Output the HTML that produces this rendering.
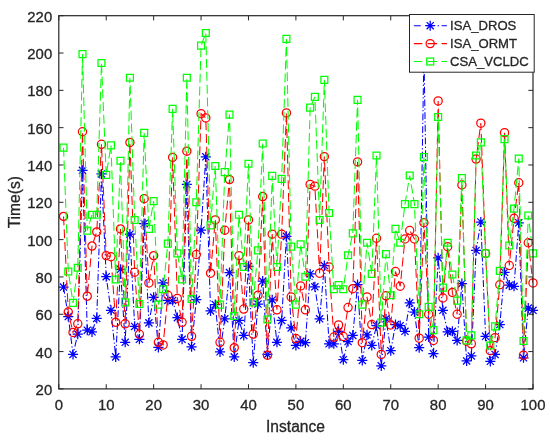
<!DOCTYPE html>
<html><head><meta charset="utf-8"><title>Time per Instance</title>
<style>
html,body{margin:0;padding:0;background:#fff;}
svg{display:block;}
text{font-family:"Liberation Sans",Arial,Helvetica,sans-serif;fill:#262626;stroke:#262626;stroke-width:0.3px;}
.tk{font-size:14.9px;}
.lb{font-size:15.6px;}
.lg{font-size:13.1px;fill:#000;stroke:#000;}
</style></head><body>
<svg width="550" height="442" viewBox="0 0 550 442">
<rect x="0" y="0" width="550" height="442" fill="#fff"/>
<defs><clipPath id="cp"><rect x="58.8" y="15.7" width="474.2" height="373.2"/></clipPath></defs>
<g fill="none" stroke-width="1.05">
<polyline clip-path="url(#cp)" points="63.54,287.01 68.28,316.52 73.03,354.44 77.77,334.08 82.51,170.26 87.25,330.16 91.99,331.84 96.74,318.39 101.48,173.99 106.22,276.73 110.96,310.36 115.70,356.87 120.45,269.26 125.19,342.30 129.93,234.14 134.67,326.42 139.41,339.31 144.16,223.50 148.90,322.87 153.64,297.28 158.38,347.34 163.12,282.90 167.87,300.46 172.61,300.46 177.35,317.64 182.09,339.31 186.83,184.45 191.58,346.78 196.32,299.52 201.06,230.22 205.80,156.81 210.54,310.92 215.29,304.57 220.03,351.83 224.77,318.76 229.51,272.62 234.25,356.87 239.00,320.44 243.74,335.39 248.48,266.27 253.22,362.66 257.96,304.01 262.71,281.03 267.45,354.44 272.19,299.90 276.93,342.30 281.67,320.44 286.42,236.38 291.16,327.92 295.90,345.48 300.64,341.37 305.38,342.67 310.13,273.93 314.87,286.82 319.61,318.76 324.35,265.53 329.09,343.79 333.84,343.79 338.58,331.28 343.32,359.67 348.06,341.55 352.80,335.39 357.55,284.58 362.29,360.42 367.03,334.83 371.77,345.48 376.51,325.67 381.26,365.84 386.00,318.76 390.74,350.71 395.48,324.55 400.22,325.67 404.97,331.28 409.71,302.89 414.45,312.04 419.19,347.72 423.93,52.76 428.68,337.07 433.42,353.69 438.16,257.87 442.90,310.36 447.64,331.84 452.39,331.28 457.13,340.43 461.87,283.64 466.61,360.98 471.35,355.94 476.10,250.39 480.84,222.00 485.58,336.32 490.32,361.35 495.06,354.44 499.81,324.55 504.55,272.25 509.29,285.14 514.03,286.26 518.77,222.75 523.52,357.80 528.26,308.12 533.00,310.36" stroke="#0000ff" stroke-dasharray="6.8 2.3 1.3 2.3"/>
<path d="M58.49 287.01H68.59M63.54 281.96V292.06M59.97 283.44L67.11 290.58M59.97 290.58L67.11 283.44M63.23 316.52H73.33M68.28 311.47V321.57M64.71 312.95L71.85 320.09M64.71 320.09L71.85 312.95M67.98 354.44H78.08M73.03 349.39V359.49M69.46 350.87L76.60 358.01M69.46 358.01L76.60 350.87M72.72 334.08H82.82M77.77 329.03V339.13M74.20 330.51L81.34 337.65M74.20 337.65L81.34 330.51M77.46 170.26H87.56M82.51 165.21V175.31M78.94 166.69L86.08 173.83M78.94 173.83L86.08 166.69M82.20 330.16H92.30M87.25 325.11V335.21M83.68 326.59L90.82 333.73M83.68 333.73L90.82 326.59M86.94 331.84H97.04M91.99 326.79V336.89M88.42 328.27L95.56 335.41M88.42 335.41L95.56 328.27M91.69 318.39H101.79M96.74 313.34V323.44M93.17 314.82L100.31 321.96M93.17 321.96L100.31 314.82M96.43 173.99H106.53M101.48 168.94V179.04M97.91 170.42L105.05 177.56M97.91 177.56L105.05 170.42M101.17 276.73H111.27M106.22 271.68V281.78M102.65 273.16L109.79 280.30M102.65 280.30L109.79 273.16M105.91 310.36H116.01M110.96 305.31V315.41M107.39 306.79L114.53 313.93M107.39 313.93L114.53 306.79M110.65 356.87H120.75M115.70 351.82V361.92M112.13 353.30L119.27 360.44M112.13 360.44L119.27 353.30M115.40 269.26H125.50M120.45 264.21V274.31M116.88 265.69L124.02 272.83M116.88 272.83L124.02 265.69M120.14 342.30H130.24M125.19 337.25V347.35M121.62 338.73L128.76 345.87M121.62 345.87L128.76 338.73M124.88 234.14H134.98M129.93 229.09V239.19M126.36 230.57L133.50 237.71M126.36 237.71L133.50 230.57M129.62 326.42H139.72M134.67 321.37V331.47M131.10 322.85L138.24 329.99M131.10 329.99L138.24 322.85M134.36 339.31H144.46M139.41 334.26V344.36M135.84 335.74L142.98 342.88M135.84 342.88L142.98 335.74M139.11 223.50H149.21M144.16 218.45V228.55M140.59 219.92L147.73 227.07M140.59 227.07L147.73 219.92M143.85 322.87H153.95M148.90 317.82V327.92M145.33 319.30L152.47 326.44M145.33 326.44L152.47 319.30M148.59 297.28H158.69M153.64 292.23V302.33M150.07 293.71L157.21 300.85M150.07 300.85L157.21 293.71M153.33 347.34H163.43M158.38 342.29V352.39M154.81 343.77L161.95 350.91M154.81 350.91L161.95 343.77M158.07 282.90H168.17M163.12 277.85V287.95M159.55 279.33L166.69 286.47M159.55 286.47L166.69 279.33M162.82 300.46H172.92M167.87 295.41V305.51M164.30 296.89L171.44 304.03M164.30 304.03L171.44 296.89M167.56 300.46H177.66M172.61 295.41V305.51M169.04 296.89L176.18 304.03M169.04 304.03L176.18 296.89M172.30 317.64H182.40M177.35 312.59V322.69M173.78 314.07L180.92 321.21M173.78 321.21L180.92 314.07M177.04 339.31H187.14M182.09 334.26V344.36M178.52 335.74L185.66 342.88M178.52 342.88L185.66 335.74M181.78 184.45H191.88M186.83 179.40V189.50M183.26 180.88L190.40 188.02M183.26 188.02L190.40 180.88M186.53 346.78H196.63M191.58 341.73V351.83M188.01 343.21L195.15 350.35M188.01 350.35L195.15 343.21M191.27 299.52H201.37M196.32 294.47V304.57M192.75 295.95L199.89 303.09M192.75 303.09L199.89 295.95M196.01 230.22H206.11M201.06 225.17V235.27M197.49 226.65L204.63 233.79M197.49 233.79L204.63 226.65M200.75 156.81H210.85M205.80 151.76V161.86M202.23 153.24L209.37 160.38M202.23 160.38L209.37 153.24M205.49 310.92H215.59M210.54 305.87V315.97M206.97 307.35L214.11 314.49M206.97 314.49L214.11 307.35M210.24 304.57H220.34M215.29 299.52V309.62M211.72 301.00L218.86 308.14M211.72 308.14L218.86 301.00M214.98 351.83H225.08M220.03 346.78V356.88M216.46 348.26L223.60 355.40M216.46 355.40L223.60 348.26M219.72 318.76H229.82M224.77 313.71V323.81M221.20 315.19L228.34 322.33M221.20 322.33L228.34 315.19M224.46 272.62H234.56M229.51 267.57V277.67M225.94 269.05L233.08 276.19M225.94 276.19L233.08 269.05M229.20 356.87H239.30M234.25 351.82V361.92M230.68 353.30L237.82 360.44M230.68 360.44L237.82 353.30M233.95 320.44H244.05M239.00 315.39V325.49M235.43 316.87L242.57 324.02M235.43 324.02L242.57 316.87M238.69 335.39H248.79M243.74 330.34V340.44M240.17 331.82L247.31 338.96M240.17 338.96L247.31 331.82M243.43 266.27H253.53M248.48 261.22V271.32M244.91 262.70L252.05 269.84M244.91 269.84L252.05 262.70M248.17 362.66H258.27M253.22 357.61V367.71M249.65 359.09L256.79 366.23M249.65 366.23L256.79 359.09M252.91 304.01H263.01M257.96 298.96V309.06M254.39 300.44L261.53 307.58M254.39 307.58L261.53 300.44M257.66 281.03H267.76M262.71 275.98V286.08M259.14 277.46L266.28 284.60M259.14 284.60L266.28 277.46M262.40 354.44H272.50M267.45 349.39V359.49M263.88 350.87L271.02 358.01M263.88 358.01L271.02 350.87M267.14 299.90H277.24M272.19 294.85V304.95M268.62 296.33L275.76 303.47M268.62 303.47L275.76 296.33M271.88 342.30H281.98M276.93 337.25V347.35M273.36 338.73L280.50 345.87M273.36 345.87L280.50 338.73M276.62 320.44H286.72M281.67 315.39V325.49M278.10 316.87L285.24 324.02M278.10 324.02L285.24 316.87M281.37 236.38H291.47M286.42 231.33V241.43M282.85 232.81L289.99 239.96M282.85 239.96L289.99 232.81M286.11 327.92H296.21M291.16 322.87V332.97M287.59 324.35L294.73 331.49M287.59 331.49L294.73 324.35M290.85 345.48H300.95M295.90 340.43V350.53M292.33 341.90L299.47 349.05M292.33 349.05L299.47 341.90M295.59 341.37H305.69M300.64 336.32V346.42M297.07 337.80L304.21 344.94M297.07 344.94L304.21 337.80M300.33 342.67H310.43M305.38 337.62V347.72M301.81 339.10L308.95 346.24M301.81 346.24L308.95 339.10M305.08 273.93H315.18M310.13 268.88V278.98M306.56 270.36L313.70 277.50M306.56 277.50L313.70 270.36M309.82 286.82H319.92M314.87 281.77V291.87M311.30 283.25L318.44 290.39M311.30 290.39L318.44 283.25M314.56 318.76H324.66M319.61 313.71V323.81M316.04 315.19L323.18 322.33M316.04 322.33L323.18 315.19M319.30 265.53H329.40M324.35 260.48V270.58M320.78 261.95L327.92 269.10M320.78 269.10L327.92 261.95M324.04 343.79H334.14M329.09 338.74V348.84M325.52 340.22L332.66 347.37M325.52 347.37L332.66 340.22M328.79 343.79H338.89M333.84 338.74V348.84M330.27 340.22L337.41 347.37M330.27 347.37L337.41 340.22M333.53 331.28H343.63M338.58 326.23V336.33M335.01 327.71L342.15 334.85M335.01 334.85L342.15 327.71M338.27 359.67H348.37M343.32 354.62V364.72M339.75 356.10L346.89 363.24M339.75 363.24L346.89 356.10M343.01 341.55H353.11M348.06 336.50V346.60M344.49 337.98L351.63 345.12M344.49 345.12L351.63 337.98M347.75 335.39H357.85M352.80 330.34V340.44M349.23 331.82L356.37 338.96M349.23 338.96L356.37 331.82M352.50 284.58H362.60M357.55 279.53V289.63M353.98 281.01L361.12 288.15M353.98 288.15L361.12 281.01M357.24 360.42H367.34M362.29 355.37V365.47M358.72 356.85L365.86 363.99M358.72 363.99L365.86 356.85M361.98 334.83H372.08M367.03 329.78V339.88M363.46 331.26L370.60 338.40M363.46 338.40L370.60 331.26M366.72 345.48H376.82M371.77 340.43V350.53M368.20 341.90L375.34 349.05M368.20 349.05L375.34 341.90M371.46 325.67H381.56M376.51 320.62V330.72M372.94 322.10L380.08 329.25M372.94 329.25L380.08 322.10M376.21 365.84H386.31M381.26 360.79V370.89M377.69 362.27L384.83 369.41M377.69 369.41L384.83 362.27M380.95 318.76H391.05M386.00 313.71V323.81M382.43 315.19L389.57 322.33M382.43 322.33L389.57 315.19M385.69 350.71H395.79M390.74 345.66V355.76M387.17 347.14L394.31 354.28M387.17 354.28L394.31 347.14M390.43 324.55H400.53M395.48 319.50V329.60M391.91 320.98L399.05 328.12M391.91 328.12L399.05 320.98M395.17 325.67H405.27M400.22 320.62V330.72M396.65 322.10L403.79 329.25M396.65 329.25L403.79 322.10M399.92 331.28H410.02M404.97 326.23V336.33M401.40 327.71L408.54 334.85M401.40 334.85L408.54 327.71M404.66 302.89H414.76M409.71 297.84V307.94M406.14 299.31L413.28 306.46M406.14 306.46L413.28 299.31M409.40 312.04H419.50M414.45 306.99V317.09M410.88 308.47L418.02 315.61M410.88 315.61L418.02 308.47M414.14 347.72H424.24M419.19 342.67V352.77M415.62 344.15L422.76 351.29M415.62 351.29L422.76 344.15M418.88 52.76H428.98M423.93 47.71V57.81M420.36 49.19L427.50 56.33M420.36 56.33L427.50 49.19M423.63 337.07H433.73M428.68 332.02V342.12M425.11 333.50L432.25 340.64M425.11 340.64L432.25 333.50M428.37 353.69H438.47M433.42 348.64V358.74M429.85 350.12L436.99 357.27M429.85 357.27L436.99 350.12M433.11 257.87H443.21M438.16 252.82V262.92M434.59 254.30L441.73 261.44M434.59 261.44L441.73 254.30M437.85 310.36H447.95M442.90 305.31V315.41M439.33 306.79L446.47 313.93M439.33 313.93L446.47 306.79M442.59 331.84H452.69M447.64 326.79V336.89M444.07 328.27L451.21 335.41M444.07 335.41L451.21 328.27M447.34 331.28H457.44M452.39 326.23V336.33M448.82 327.71L455.96 334.85M448.82 334.85L455.96 327.71M452.08 340.43H462.18M457.13 335.38V345.48M453.56 336.86L460.70 344.00M453.56 344.00L460.70 336.86M456.82 283.64H466.92M461.87 278.59V288.69M458.30 280.07L465.44 287.22M458.30 287.22L465.44 280.07M461.56 360.98H471.66M466.61 355.93V366.03M463.04 357.41L470.18 364.55M463.04 364.55L470.18 357.41M466.30 355.94H476.40M471.35 350.89V360.99M467.78 352.37L474.92 359.51M467.78 359.51L474.92 352.37M471.05 250.39H481.15M476.10 245.34V255.44M472.53 246.82L479.67 253.97M472.53 253.97L479.67 246.82M475.79 222.00H485.89M480.84 216.95V227.05M477.27 218.43L484.41 225.57M477.27 225.57L484.41 218.43M480.53 336.32H490.63M485.58 331.27V341.37M482.01 332.75L489.15 339.89M482.01 339.89L489.15 332.75M485.27 361.35H495.37M490.32 356.30V366.40M486.75 357.78L493.89 364.92M486.75 364.92L493.89 357.78M490.01 354.44H500.11M495.06 349.39V359.49M491.49 350.87L498.63 358.01M491.49 358.01L498.63 350.87M494.76 324.55H504.86M499.81 319.50V329.60M496.24 320.98L503.38 328.12M496.24 328.12L503.38 320.98M499.50 272.25H509.60M504.55 267.20V277.30M500.98 268.68L508.12 275.82M500.98 275.82L508.12 268.68M504.24 285.14H514.34M509.29 280.09V290.19M505.72 281.57L512.86 288.71M505.72 288.71L512.86 281.57M508.98 286.26H519.08M514.03 281.21V291.31M510.46 282.69L517.60 289.83M510.46 289.83L517.60 282.69M513.72 222.75H523.82M518.77 217.70V227.80M515.20 219.18L522.34 226.32M515.20 226.32L522.34 219.18M518.47 357.80H528.57M523.52 352.75V362.85M519.95 354.23L527.09 361.38M519.95 361.38L527.09 354.23M523.21 308.12H533.31M528.26 303.07V313.17M524.69 304.54L531.83 311.69M524.69 311.69L531.83 304.54M527.95 310.36H538.05M533.00 305.31V315.41M529.43 306.79L536.57 313.93M529.43 313.93L536.57 306.79" stroke="#0000ff" stroke-width="1.25"/>
<polyline clip-path="url(#cp)" points="63.54,216.40 68.28,312.04 73.03,332.40 77.77,323.81 82.51,131.78 87.25,296.16 91.99,246.10 96.74,231.90 101.48,144.29 106.22,255.62 110.96,256.75 115.70,322.31 120.45,228.91 125.19,323.81 129.93,142.42 134.67,272.25 139.41,334.27 144.16,198.65 148.90,282.90 153.64,255.62 158.38,342.30 163.12,344.92 167.87,295.23 172.61,157.37 177.35,298.40 182.09,322.31 186.83,151.20 191.58,336.32 196.32,254.50 201.06,113.66 205.80,117.95 210.54,273.18 215.29,219.95 220.03,342.30 224.77,230.22 229.51,179.60 234.25,347.72 239.00,255.62 243.74,309.05 248.48,219.95 253.22,334.08 257.96,295.23 262.71,196.60 267.45,355.19 272.19,234.14 276.93,309.80 281.67,234.14 286.42,112.91 291.16,296.91 295.90,338.56 300.64,285.89 305.38,309.80 310.13,184.45 314.87,186.14 319.61,273.18 324.35,156.62 329.09,267.02 333.84,337.07 338.58,324.93 343.32,336.51 348.06,307.56 352.80,288.69 357.55,161.85 362.29,342.67 367.03,296.91 371.77,324.55 376.51,238.25 381.26,354.44 386.00,295.79 390.74,324.93 395.48,271.50 400.22,286.26 404.97,239.00 409.71,230.59 414.45,239.00 419.19,338.19 423.93,222.75 428.68,314.28 433.42,340.43 438.16,100.95 442.90,298.03 447.64,246.66 452.39,292.42 457.13,314.28 461.87,185.01 466.61,341.18 471.35,343.79 476.10,159.05 480.84,123.18 485.58,253.38 490.32,350.71 495.06,337.63 499.81,284.77 504.55,132.71 509.29,265.53 514.03,218.26 518.77,182.77 523.52,355.19 528.26,242.74 533.00,282.90" stroke="#ff0000" stroke-dasharray="9 3.8"/>
<path d="M59.44 216.40a4.10 4.10 0 1 0 8.20 0a4.10 4.10 0 1 0 -8.20 0M64.18 312.04a4.10 4.10 0 1 0 8.20 0a4.10 4.10 0 1 0 -8.20 0M68.93 332.40a4.10 4.10 0 1 0 8.20 0a4.10 4.10 0 1 0 -8.20 0M73.67 323.81a4.10 4.10 0 1 0 8.20 0a4.10 4.10 0 1 0 -8.20 0M78.41 131.78a4.10 4.10 0 1 0 8.20 0a4.10 4.10 0 1 0 -8.20 0M83.15 296.16a4.10 4.10 0 1 0 8.20 0a4.10 4.10 0 1 0 -8.20 0M87.89 246.10a4.10 4.10 0 1 0 8.20 0a4.10 4.10 0 1 0 -8.20 0M92.64 231.90a4.10 4.10 0 1 0 8.20 0a4.10 4.10 0 1 0 -8.20 0M97.38 144.29a4.10 4.10 0 1 0 8.20 0a4.10 4.10 0 1 0 -8.20 0M102.12 255.62a4.10 4.10 0 1 0 8.20 0a4.10 4.10 0 1 0 -8.20 0M106.86 256.75a4.10 4.10 0 1 0 8.20 0a4.10 4.10 0 1 0 -8.20 0M111.60 322.31a4.10 4.10 0 1 0 8.20 0a4.10 4.10 0 1 0 -8.20 0M116.35 228.91a4.10 4.10 0 1 0 8.20 0a4.10 4.10 0 1 0 -8.20 0M121.09 323.81a4.10 4.10 0 1 0 8.20 0a4.10 4.10 0 1 0 -8.20 0M125.83 142.42a4.10 4.10 0 1 0 8.20 0a4.10 4.10 0 1 0 -8.20 0M130.57 272.25a4.10 4.10 0 1 0 8.20 0a4.10 4.10 0 1 0 -8.20 0M135.31 334.27a4.10 4.10 0 1 0 8.20 0a4.10 4.10 0 1 0 -8.20 0M140.06 198.65a4.10 4.10 0 1 0 8.20 0a4.10 4.10 0 1 0 -8.20 0M144.80 282.90a4.10 4.10 0 1 0 8.20 0a4.10 4.10 0 1 0 -8.20 0M149.54 255.62a4.10 4.10 0 1 0 8.20 0a4.10 4.10 0 1 0 -8.20 0M154.28 342.30a4.10 4.10 0 1 0 8.20 0a4.10 4.10 0 1 0 -8.20 0M159.02 344.92a4.10 4.10 0 1 0 8.20 0a4.10 4.10 0 1 0 -8.20 0M163.77 295.23a4.10 4.10 0 1 0 8.20 0a4.10 4.10 0 1 0 -8.20 0M168.51 157.37a4.10 4.10 0 1 0 8.20 0a4.10 4.10 0 1 0 -8.20 0M173.25 298.40a4.10 4.10 0 1 0 8.20 0a4.10 4.10 0 1 0 -8.20 0M177.99 322.31a4.10 4.10 0 1 0 8.20 0a4.10 4.10 0 1 0 -8.20 0M182.73 151.20a4.10 4.10 0 1 0 8.20 0a4.10 4.10 0 1 0 -8.20 0M187.48 336.32a4.10 4.10 0 1 0 8.20 0a4.10 4.10 0 1 0 -8.20 0M192.22 254.50a4.10 4.10 0 1 0 8.20 0a4.10 4.10 0 1 0 -8.20 0M196.96 113.66a4.10 4.10 0 1 0 8.20 0a4.10 4.10 0 1 0 -8.20 0M201.70 117.95a4.10 4.10 0 1 0 8.20 0a4.10 4.10 0 1 0 -8.20 0M206.44 273.18a4.10 4.10 0 1 0 8.20 0a4.10 4.10 0 1 0 -8.20 0M211.19 219.95a4.10 4.10 0 1 0 8.20 0a4.10 4.10 0 1 0 -8.20 0M215.93 342.30a4.10 4.10 0 1 0 8.20 0a4.10 4.10 0 1 0 -8.20 0M220.67 230.22a4.10 4.10 0 1 0 8.20 0a4.10 4.10 0 1 0 -8.20 0M225.41 179.60a4.10 4.10 0 1 0 8.20 0a4.10 4.10 0 1 0 -8.20 0M230.15 347.72a4.10 4.10 0 1 0 8.20 0a4.10 4.10 0 1 0 -8.20 0M234.90 255.62a4.10 4.10 0 1 0 8.20 0a4.10 4.10 0 1 0 -8.20 0M239.64 309.05a4.10 4.10 0 1 0 8.20 0a4.10 4.10 0 1 0 -8.20 0M244.38 219.95a4.10 4.10 0 1 0 8.20 0a4.10 4.10 0 1 0 -8.20 0M249.12 334.08a4.10 4.10 0 1 0 8.20 0a4.10 4.10 0 1 0 -8.20 0M253.86 295.23a4.10 4.10 0 1 0 8.20 0a4.10 4.10 0 1 0 -8.20 0M258.61 196.60a4.10 4.10 0 1 0 8.20 0a4.10 4.10 0 1 0 -8.20 0M263.35 355.19a4.10 4.10 0 1 0 8.20 0a4.10 4.10 0 1 0 -8.20 0M268.09 234.14a4.10 4.10 0 1 0 8.20 0a4.10 4.10 0 1 0 -8.20 0M272.83 309.80a4.10 4.10 0 1 0 8.20 0a4.10 4.10 0 1 0 -8.20 0M277.57 234.14a4.10 4.10 0 1 0 8.20 0a4.10 4.10 0 1 0 -8.20 0M282.32 112.91a4.10 4.10 0 1 0 8.20 0a4.10 4.10 0 1 0 -8.20 0M287.06 296.91a4.10 4.10 0 1 0 8.20 0a4.10 4.10 0 1 0 -8.20 0M291.80 338.56a4.10 4.10 0 1 0 8.20 0a4.10 4.10 0 1 0 -8.20 0M296.54 285.89a4.10 4.10 0 1 0 8.20 0a4.10 4.10 0 1 0 -8.20 0M301.28 309.80a4.10 4.10 0 1 0 8.20 0a4.10 4.10 0 1 0 -8.20 0M306.03 184.45a4.10 4.10 0 1 0 8.20 0a4.10 4.10 0 1 0 -8.20 0M310.77 186.14a4.10 4.10 0 1 0 8.20 0a4.10 4.10 0 1 0 -8.20 0M315.51 273.18a4.10 4.10 0 1 0 8.20 0a4.10 4.10 0 1 0 -8.20 0M320.25 156.62a4.10 4.10 0 1 0 8.20 0a4.10 4.10 0 1 0 -8.20 0M324.99 267.02a4.10 4.10 0 1 0 8.20 0a4.10 4.10 0 1 0 -8.20 0M329.74 337.07a4.10 4.10 0 1 0 8.20 0a4.10 4.10 0 1 0 -8.20 0M334.48 324.93a4.10 4.10 0 1 0 8.20 0a4.10 4.10 0 1 0 -8.20 0M339.22 336.51a4.10 4.10 0 1 0 8.20 0a4.10 4.10 0 1 0 -8.20 0M343.96 307.56a4.10 4.10 0 1 0 8.20 0a4.10 4.10 0 1 0 -8.20 0M348.70 288.69a4.10 4.10 0 1 0 8.20 0a4.10 4.10 0 1 0 -8.20 0M353.45 161.85a4.10 4.10 0 1 0 8.20 0a4.10 4.10 0 1 0 -8.20 0M358.19 342.67a4.10 4.10 0 1 0 8.20 0a4.10 4.10 0 1 0 -8.20 0M362.93 296.91a4.10 4.10 0 1 0 8.20 0a4.10 4.10 0 1 0 -8.20 0M367.67 324.55a4.10 4.10 0 1 0 8.20 0a4.10 4.10 0 1 0 -8.20 0M372.41 238.25a4.10 4.10 0 1 0 8.20 0a4.10 4.10 0 1 0 -8.20 0M377.16 354.44a4.10 4.10 0 1 0 8.20 0a4.10 4.10 0 1 0 -8.20 0M381.90 295.79a4.10 4.10 0 1 0 8.20 0a4.10 4.10 0 1 0 -8.20 0M386.64 324.93a4.10 4.10 0 1 0 8.20 0a4.10 4.10 0 1 0 -8.20 0M391.38 271.50a4.10 4.10 0 1 0 8.20 0a4.10 4.10 0 1 0 -8.20 0M396.12 286.26a4.10 4.10 0 1 0 8.20 0a4.10 4.10 0 1 0 -8.20 0M400.87 239.00a4.10 4.10 0 1 0 8.20 0a4.10 4.10 0 1 0 -8.20 0M405.61 230.59a4.10 4.10 0 1 0 8.20 0a4.10 4.10 0 1 0 -8.20 0M410.35 239.00a4.10 4.10 0 1 0 8.20 0a4.10 4.10 0 1 0 -8.20 0M415.09 338.19a4.10 4.10 0 1 0 8.20 0a4.10 4.10 0 1 0 -8.20 0M419.83 222.75a4.10 4.10 0 1 0 8.20 0a4.10 4.10 0 1 0 -8.20 0M424.58 314.28a4.10 4.10 0 1 0 8.20 0a4.10 4.10 0 1 0 -8.20 0M429.32 340.43a4.10 4.10 0 1 0 8.20 0a4.10 4.10 0 1 0 -8.20 0M434.06 100.95a4.10 4.10 0 1 0 8.20 0a4.10 4.10 0 1 0 -8.20 0M438.80 298.03a4.10 4.10 0 1 0 8.20 0a4.10 4.10 0 1 0 -8.20 0M443.54 246.66a4.10 4.10 0 1 0 8.20 0a4.10 4.10 0 1 0 -8.20 0M448.29 292.42a4.10 4.10 0 1 0 8.20 0a4.10 4.10 0 1 0 -8.20 0M453.03 314.28a4.10 4.10 0 1 0 8.20 0a4.10 4.10 0 1 0 -8.20 0M457.77 185.01a4.10 4.10 0 1 0 8.20 0a4.10 4.10 0 1 0 -8.20 0M462.51 341.18a4.10 4.10 0 1 0 8.20 0a4.10 4.10 0 1 0 -8.20 0M467.25 343.79a4.10 4.10 0 1 0 8.20 0a4.10 4.10 0 1 0 -8.20 0M472.00 159.05a4.10 4.10 0 1 0 8.20 0a4.10 4.10 0 1 0 -8.20 0M476.74 123.18a4.10 4.10 0 1 0 8.20 0a4.10 4.10 0 1 0 -8.20 0M481.48 253.38a4.10 4.10 0 1 0 8.20 0a4.10 4.10 0 1 0 -8.20 0M486.22 350.71a4.10 4.10 0 1 0 8.20 0a4.10 4.10 0 1 0 -8.20 0M490.96 337.63a4.10 4.10 0 1 0 8.20 0a4.10 4.10 0 1 0 -8.20 0M495.71 284.77a4.10 4.10 0 1 0 8.20 0a4.10 4.10 0 1 0 -8.20 0M500.45 132.71a4.10 4.10 0 1 0 8.20 0a4.10 4.10 0 1 0 -8.20 0M505.19 265.53a4.10 4.10 0 1 0 8.20 0a4.10 4.10 0 1 0 -8.20 0M509.93 218.26a4.10 4.10 0 1 0 8.20 0a4.10 4.10 0 1 0 -8.20 0M514.67 182.77a4.10 4.10 0 1 0 8.20 0a4.10 4.10 0 1 0 -8.20 0M519.42 355.19a4.10 4.10 0 1 0 8.20 0a4.10 4.10 0 1 0 -8.20 0M524.16 242.74a4.10 4.10 0 1 0 8.20 0a4.10 4.10 0 1 0 -8.20 0M528.90 282.90a4.10 4.10 0 1 0 8.20 0a4.10 4.10 0 1 0 -8.20 0" stroke="#ff0000" stroke-width="1.25"/>
<polyline clip-path="url(#cp)" points="63.54,147.65 68.28,271.50 73.03,302.89 77.77,267.77 82.51,54.07 87.25,230.59 91.99,214.72 96.74,214.72 101.48,63.03 106.22,174.93 110.96,145.41 115.70,279.54 120.45,160.73 125.19,302.32 129.93,77.79 134.67,219.95 139.41,304.01 144.16,132.90 148.90,228.91 153.64,201.08 158.38,304.57 163.12,289.25 167.87,243.67 172.61,108.80 177.35,253.38 182.09,279.54 186.83,77.79 191.58,298.96 196.32,202.20 201.06,45.66 205.80,32.96 210.54,225.36 215.29,165.96 220.03,304.57 224.77,172.13 229.51,114.59 234.25,315.96 239.00,214.72 243.74,267.02 248.48,163.72 253.22,302.32 257.96,250.39 262.71,143.54 267.45,319.51 272.19,175.86 276.93,267.02 281.67,178.85 286.42,38.94 291.16,246.66 295.90,304.57 300.64,244.23 305.38,276.73 310.13,107.68 314.87,96.84 319.61,219.95 324.35,79.85 329.09,213.03 333.84,289.25 338.58,285.14 343.32,289.25 348.06,255.25 352.80,233.40 357.55,99.83 362.29,304.57 367.03,242.74 371.77,273.93 376.51,155.50 381.26,322.69 386.00,254.13 390.74,295.23 395.48,228.91 400.22,242.74 404.97,204.07 409.71,175.49 414.45,204.07 419.19,314.28 423.93,157.18 428.68,306.81 433.42,330.16 438.16,117.02 442.90,287.57 447.64,242.74 452.39,274.49 457.13,300.64 461.87,178.10 466.61,340.43 471.35,335.39 476.10,155.50 480.84,142.42 485.58,253.38 490.32,345.48 495.06,326.42 499.81,270.94 504.55,139.06 509.29,245.54 514.03,208.55 518.77,158.49 523.52,340.99 528.26,215.46 533.00,253.38" stroke="#00ff00" stroke-dasharray="9 3.8"/>
<path d="M60.09 144.20h6.90v6.90h-6.90zM64.83 268.05h6.90v6.90h-6.90zM69.58 299.44h6.90v6.90h-6.90zM74.32 264.32h6.90v6.90h-6.90zM79.06 50.62h6.90v6.90h-6.90zM83.80 227.14h6.90v6.90h-6.90zM88.54 211.27h6.90v6.90h-6.90zM93.29 211.27h6.90v6.90h-6.90zM98.03 59.58h6.90v6.90h-6.90zM102.77 171.48h6.90v6.90h-6.90zM107.51 141.96h6.90v6.90h-6.90zM112.25 276.09h6.90v6.90h-6.90zM117.00 157.28h6.90v6.90h-6.90zM121.74 298.87h6.90v6.90h-6.90zM126.48 74.34h6.90v6.90h-6.90zM131.22 216.50h6.90v6.90h-6.90zM135.96 300.56h6.90v6.90h-6.90zM140.71 129.45h6.90v6.90h-6.90zM145.45 225.46h6.90v6.90h-6.90zM150.19 197.63h6.90v6.90h-6.90zM154.93 301.12h6.90v6.90h-6.90zM159.67 285.80h6.90v6.90h-6.90zM164.42 240.22h6.90v6.90h-6.90zM169.16 105.35h6.90v6.90h-6.90zM173.90 249.93h6.90v6.90h-6.90zM178.64 276.09h6.90v6.90h-6.90zM183.38 74.34h6.90v6.90h-6.90zM188.13 295.51h6.90v6.90h-6.90zM192.87 198.75h6.90v6.90h-6.90zM197.61 42.21h6.90v6.90h-6.90zM202.35 29.51h6.90v6.90h-6.90zM207.09 221.91h6.90v6.90h-6.90zM211.84 162.51h6.90v6.90h-6.90zM216.58 301.12h6.90v6.90h-6.90zM221.32 168.68h6.90v6.90h-6.90zM226.06 111.14h6.90v6.90h-6.90zM230.80 312.51h6.90v6.90h-6.90zM235.55 211.27h6.90v6.90h-6.90zM240.29 263.57h6.90v6.90h-6.90zM245.03 160.27h6.90v6.90h-6.90zM249.77 298.87h6.90v6.90h-6.90zM254.51 246.94h6.90v6.90h-6.90zM259.26 140.09h6.90v6.90h-6.90zM264.00 316.06h6.90v6.90h-6.90zM268.74 172.41h6.90v6.90h-6.90zM273.48 263.57h6.90v6.90h-6.90zM278.22 175.40h6.90v6.90h-6.90zM282.97 35.49h6.90v6.90h-6.90zM287.71 243.21h6.90v6.90h-6.90zM292.45 301.12h6.90v6.90h-6.90zM297.19 240.78h6.90v6.90h-6.90zM301.93 273.28h6.90v6.90h-6.90zM306.68 104.23h6.90v6.90h-6.90zM311.42 93.39h6.90v6.90h-6.90zM316.16 216.50h6.90v6.90h-6.90zM320.90 76.40h6.90v6.90h-6.90zM325.64 209.58h6.90v6.90h-6.90zM330.39 285.80h6.90v6.90h-6.90zM335.13 281.69h6.90v6.90h-6.90zM339.87 285.80h6.90v6.90h-6.90zM344.61 251.80h6.90v6.90h-6.90zM349.35 229.95h6.90v6.90h-6.90zM354.10 96.38h6.90v6.90h-6.90zM358.84 301.12h6.90v6.90h-6.90zM363.58 239.29h6.90v6.90h-6.90zM368.32 270.48h6.90v6.90h-6.90zM373.06 152.05h6.90v6.90h-6.90zM377.81 319.24h6.90v6.90h-6.90zM382.55 250.68h6.90v6.90h-6.90zM387.29 291.78h6.90v6.90h-6.90zM392.03 225.46h6.90v6.90h-6.90zM396.77 239.29h6.90v6.90h-6.90zM401.52 200.62h6.90v6.90h-6.90zM406.26 172.04h6.90v6.90h-6.90zM411.00 200.62h6.90v6.90h-6.90zM415.74 310.83h6.90v6.90h-6.90zM420.48 153.73h6.90v6.90h-6.90zM425.23 303.36h6.90v6.90h-6.90zM429.97 326.71h6.90v6.90h-6.90zM434.71 113.57h6.90v6.90h-6.90zM439.45 284.12h6.90v6.90h-6.90zM444.19 239.29h6.90v6.90h-6.90zM448.94 271.04h6.90v6.90h-6.90zM453.68 297.19h6.90v6.90h-6.90zM458.42 174.65h6.90v6.90h-6.90zM463.16 336.98h6.90v6.90h-6.90zM467.90 331.94h6.90v6.90h-6.90zM472.65 152.05h6.90v6.90h-6.90zM477.39 138.97h6.90v6.90h-6.90zM482.13 249.93h6.90v6.90h-6.90zM486.87 342.03h6.90v6.90h-6.90zM491.61 322.97h6.90v6.90h-6.90zM496.36 267.49h6.90v6.90h-6.90zM501.10 135.61h6.90v6.90h-6.90zM505.84 242.09h6.90v6.90h-6.90zM510.58 205.10h6.90v6.90h-6.90zM515.32 155.04h6.90v6.90h-6.90zM520.07 337.54h6.90v6.90h-6.90zM524.81 212.01h6.90v6.90h-6.90zM529.55 249.93h6.90v6.90h-6.90z" stroke="#00ff00" stroke-width="1.25"/>
</g>
<path d="M58.80 388.90v-4.70M58.80 15.70v4.70M106.22 388.90v-4.70M106.22 15.70v4.70M153.64 388.90v-4.70M153.64 15.70v4.70M201.06 388.90v-4.70M201.06 15.70v4.70M248.48 388.90v-4.70M248.48 15.70v4.70M295.90 388.90v-4.70M295.90 15.70v4.70M343.32 388.90v-4.70M343.32 15.70v4.70M390.74 388.90v-4.70M390.74 15.70v4.70M438.16 388.90v-4.70M438.16 15.70v4.70M485.58 388.90v-4.70M485.58 15.70v4.70M533.00 388.90v-4.70M533.00 15.70v4.70M58.80 388.90h4.70M533.00 388.90h-4.70M58.80 351.58h4.70M533.00 351.58h-4.70M58.80 314.26h4.70M533.00 314.26h-4.70M58.80 276.94h4.70M533.00 276.94h-4.70M58.80 239.62h4.70M533.00 239.62h-4.70M58.80 202.30h4.70M533.00 202.30h-4.70M58.80 164.98h4.70M533.00 164.98h-4.70M58.80 127.66h4.70M533.00 127.66h-4.70M58.80 90.34h4.70M533.00 90.34h-4.70M58.80 53.02h4.70M533.00 53.02h-4.70M58.80 15.70h4.70M533.00 15.70h-4.70" stroke="#262626" stroke-width="1" fill="none"/>
<rect x="58.80" y="15.70" width="474.20" height="373.20" fill="none" stroke="#262626" stroke-width="1.2"/>
<g class="tk" text-anchor="middle"><text x="58.80" y="409.7">0</text><text x="106.22" y="409.7">10</text><text x="153.64" y="409.7">20</text><text x="201.06" y="409.7">30</text><text x="248.48" y="409.7">40</text><text x="295.90" y="409.7">50</text><text x="343.32" y="409.7">60</text><text x="390.74" y="409.7">70</text><text x="438.16" y="409.7">80</text><text x="485.58" y="409.7">90</text><text x="533.00" y="409.7">100</text></g>
<g class="tk" text-anchor="end"><text x="52.2" y="394.90">20</text><text x="52.2" y="357.58">40</text><text x="52.2" y="320.26">60</text><text x="52.2" y="282.94">80</text><text x="52.2" y="245.62">100</text><text x="52.2" y="208.30">120</text><text x="52.2" y="170.98">140</text><text x="52.2" y="133.66">160</text><text x="52.2" y="96.34">180</text><text x="52.2" y="59.02">200</text><text x="52.2" y="21.70">220</text></g>
<text class="lb" text-anchor="middle" x="295.5" y="432.1">Instance</text>
<text class="lb" text-anchor="middle" transform="translate(19.9 202.2) rotate(-90)">Time(s)</text>
<rect x="409.50" y="14.50" width="124.70" height="57.70" fill="#fff" stroke="#262626" stroke-width="1"/>
<g fill="none" stroke-width="1.05">
<path d="M413.9 25.70H420.7M426.5 25.70H433.5M437.6 25.70H439.1M441.6 25.70H446.9" stroke="#0000ff"/><path d="M425.15 25.70H435.25M430.20 20.65V30.75M426.63 22.13L433.77 29.27M426.63 29.27L433.77 22.13" stroke="#0000ff" stroke-width="1.25"/>
<path d="M413.9 43.60H422.3M427.7 43.60H437.1M441.6 43.60H447" stroke="#ff0000"/><circle cx="430.20" cy="43.60" r="4.10" stroke="#ff0000" stroke-width="1.25"/>
<path d="M413.9 61.50H422.3M427.7 61.50H437.1M441.6 61.50H447" stroke="#00ff00"/><rect x="426.75" y="58.05" width="6.90" height="6.90" stroke="#00ff00" stroke-width="1.25"/>
</g>
<g class="lg"><text x="450.1" y="30.30">ISA_DROS</text><text x="450.1" y="48.20">ISA_ORMT</text><text x="450.1" y="66.10">CSA_VCLDC</text></g>
</svg>
</body></html>
